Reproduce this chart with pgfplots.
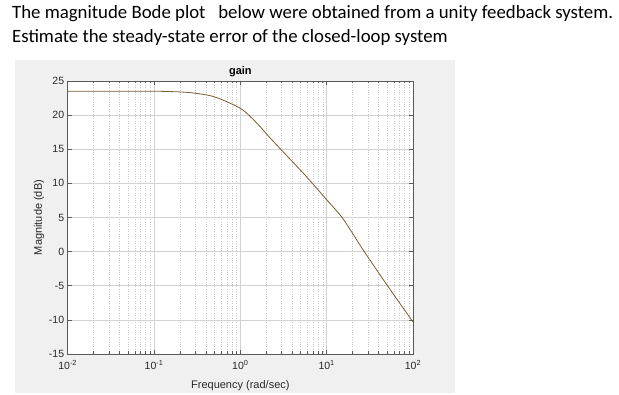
\documentclass[border=0pt]{standalone}
\usepackage{fontspec}
\setmainfont{Liberation Sans}
\newfontfamily\calibri{Carlito}
\usepackage{pgfplots}
\pgfplotsset{compat=1.18}
\definecolor{figgray}{RGB}{240,240,240}
\definecolor{curve}{RGB}{120,95,50}
\definecolor{axgray}{RGB}{90,90,90}
\definecolor{tickgray}{RGB}{40,40,40}
\begin{document}
\begin{tikzpicture}[x=1pt,y=1pt]
\fill[white] (0,0) rectangle (619,395);
\fill[figgray] (15,2) rectangle (455,335);
\node[anchor=base west,inner sep=0pt,font=\calibri\fontsize{18.8}{22}\selectfont] at (12,376) {The magnitude Bode plot\ \ \ below were obtained from a unity feedback system.};
\node[anchor=base west,inner sep=0pt,font=\calibri\fontsize{18.8}{22}\selectfont] at (12,352) {Estimate the steady-state error of the closed-loop system};
\begin{axis}[
  at={(67.7pt,41pt)}, anchor=south west,
  scale only axis, width=345.3pt, height=273pt,
  xmode=log, xmin=0.01, xmax=100, ymin=-15, ymax=25,
  axis background/.style={fill=white},
  xtick={0.01,0.1,1,10,100},
  xticklabels={10\textsuperscript{-2},10\textsuperscript{-1},10\textsuperscript{0},10\textsuperscript{1},10\textsuperscript{2}},
  ytick={-15,-10,-5,0,5,10,15,20,25},
  yticklabels={-15,-10,-5,0,5,10,15,20,25},
  tick label style={font=\fontsize{10.5}{12}\selectfont, color=tickgray},
  xticklabel style={yshift=-2.5pt},
  label style={font=\fontsize{11}{13}\selectfont, color=tickgray},
  tick align=inside,
  major tick length=4pt, minor tick length=2.5pt,
  axis line style={axgray, line width=0.8pt},
  every tick/.style={axgray, line width=0.5pt},
  grid=both,
  major grid style={gray!35, line width=0.5pt},
  minor grid style={gray!45, dotted, line width=0.4pt},
  xlabel={Frequency (rad/sec)},
  ylabel={Magnitude (dB)},
  xlabel style={yshift=-4pt},
  ylabel style={yshift=-2pt},
  title={\textbf{gain}},
  title style={font=\fontsize{11}{13}\selectfont, yshift=-5pt},
]
\addplot[curve, line width=0.8pt, smooth] coordinates {
(0.01,23.5) (0.03,23.5) (0.1,23.5) (0.2,23.4) (0.263,23.3) (0.447,22.85) (0.631,22.2) (1,21.0)
(1.303,19.8) (1.698,18.3) (2.089,17.0) (2.884,15.1) (5.623,11.2) (10,7.6)
(15.49,4.8) (26.3,0.3) (51.3,-5.1) (100,-10.3)
};
\end{axis}
\end{tikzpicture}
\end{document}
